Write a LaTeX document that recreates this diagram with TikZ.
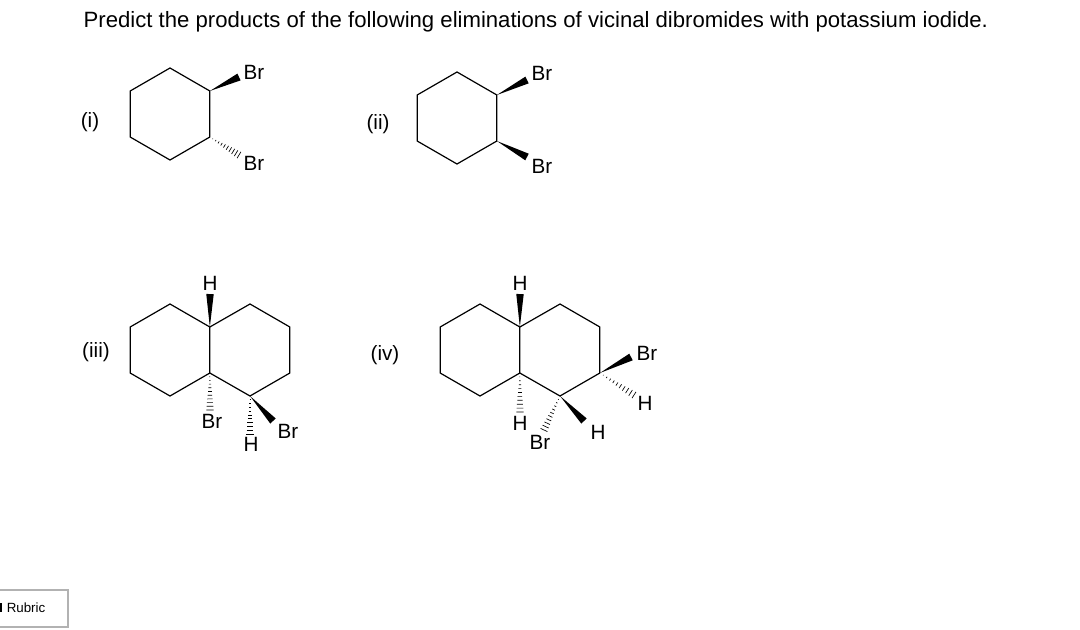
\documentclass[tikz,border=0pt]{standalone}
\usepackage{fontspec}
\setmainfont{Liberation Sans}
\usetikzlibrary{calc}
\newcommand\mywedge[2]{\fill ($(#2)!2.8pt!90:(#1)$) -- (#1) -- ($(#2)!2.8pt!-90:(#1)$) -- cycle;}
\newcommand\myhash[2]{\foreach \t in {0.1,0.2,...,1.01}{\path ($(#1)!\t!(#2)$) coordinate (hp);
 \draw[line width=0.5pt] ($(hp)!\t*2.8pt!90:(#1)$) -- ($(hp)!\t*2.8pt!-90:(#1)$);}}
\tikzset{bond/.style={line width=0.9pt,line join=round},lbl/.style={font=\fontsize{15.5}{17}\selectfont,inner sep=0pt},
 roman/.style={font=\fontsize{15.5}{17}\selectfont}}
\begin{document}
\begin{tikzpicture}[x=0.75pt,y=-0.75pt]
\useasboundingbox (0,0) rectangle (1080,629);
\fill[white] (0,0) rectangle (1080,629);
\node[font=\fontsize{16.6}{19}\selectfont,anchor=west] (title) at (79,22) {Predict the products of the following eliminations of vicinal dibromides with potassium iodide.};
% (i)
\node[roman] (li) at (90,122) {(i)};
\foreach \i/\a in {1/-90,2/-30,3/30,4/90,5/150,6/210}{\coordinate (a\i) at ($(170,114)+(\a:46)$);}
\draw[bond] (a1)--(a2)--(a3)--(a4)--(a5)--(a6)--cycle;
\node[lbl] (ibr1) at (254,72) {Br};
\node[lbl] (ibr2) at (254,163) {Br};
\coordinate (iw) at (239,77); \coordinate (ih) at (239,155);
\mywedge{a2}{iw} \myhash{a3}{ih}
% (ii)
\node[roman] (lii) at (378,124) {(ii)};
\foreach \i/\a in {1/-90,2/-30,3/30,4/90,5/150,6/210}{\coordinate (b\i) at ($(457,118)+(\a:46)$);}
\draw[bond] (b1)--(b2)--(b3)--(b4)--(b5)--(b6)--cycle;
\node[lbl] (iibr1) at (542,73) {Br};
\node[lbl] (iibr2) at (542,166) {Br};
\coordinate (iiw1) at (527,80); \coordinate (iiw2) at (527,157);
\mywedge{b2}{iiw1} \mywedge{b3}{iiw2}
% (iii)
\node[roman] (liii) at (96,352) {(iii)};
\foreach \i/\a in {1/-90,2/-30,3/30,4/90,5/150,6/210}{\coordinate (c\i) at ($(170,350)+(\a:46)$);\coordinate (d\i) at ($(250,350)+(\a:46)$);}
\draw[bond] (c1)--(c2)--(c3)--(c4)--(c5)--(c6)--cycle;
\draw[bond] (c2)--(d1)--(d2)--(d3)--(d4)--(c3);
\node[lbl] (iiih) at (210,283) {H};
\node[lbl] (iiibr) at (212,421) {Br};
\node[lbl] (iiih2) at (251,444) {H};
\node[lbl] (iiibr2) at (288,431) {Br};
\coordinate (e1) at (210,294); \coordinate (e2) at (210,410);
\coordinate (e3) at (250,434); \coordinate (e4) at (273,421);
\mywedge{c2}{e1} \myhash{c3}{e2} \myhash{d4}{e3} \mywedge{d4}{e4}
% (iv)
\node[roman] (liv) at (385,355) {(iv)};
\foreach \i/\a in {1/-90,2/-30,3/30,4/90,5/150,6/210}{\coordinate (f\i) at ($(480,350)+(\a:46)$);\coordinate (g\i) at ($(560,350)+(\a:46)$);}
\draw[bond] (f1)--(f2)--(f3)--(f4)--(f5)--(f6)--cycle;
\draw[bond] (f2)--(g1)--(g2)--(g3)--(g4)--(f3);
\node[lbl] (ivh1) at (520,283) {H};
\node[lbl] (ivh2) at (520,423) {H};
\node[lbl] (ivbr1) at (540,442) {Br};
\node[lbl] (ivh3) at (598,432) {H};
\node[lbl] (ivbr2) at (647,353) {Br};
\node[lbl] (ivh4) at (645,403) {H};
\coordinate (k1) at (520,294); \coordinate (k2) at (520,412);
\coordinate (k3) at (544,430); \coordinate (k4) at (584,421);
\coordinate (k5) at (631,357); \coordinate (k6) at (634,395);
\mywedge{f2}{k1} \myhash{f3}{k2} \myhash{g4}{k3} \mywedge{g4}{k4}
\mywedge{g3}{k5} \myhash{g3}{k6}
% rubric
\draw[gray!60,line width=1.2pt,fill=white] (-5,590) rectangle (68,627);
\node[font=\fontsize{10}{12}\selectfont,anchor=east] (rub) at (50,608) {Rubric};
\fill[black] (0,603) rectangle (2,612);
\end{tikzpicture}
\end{document}
